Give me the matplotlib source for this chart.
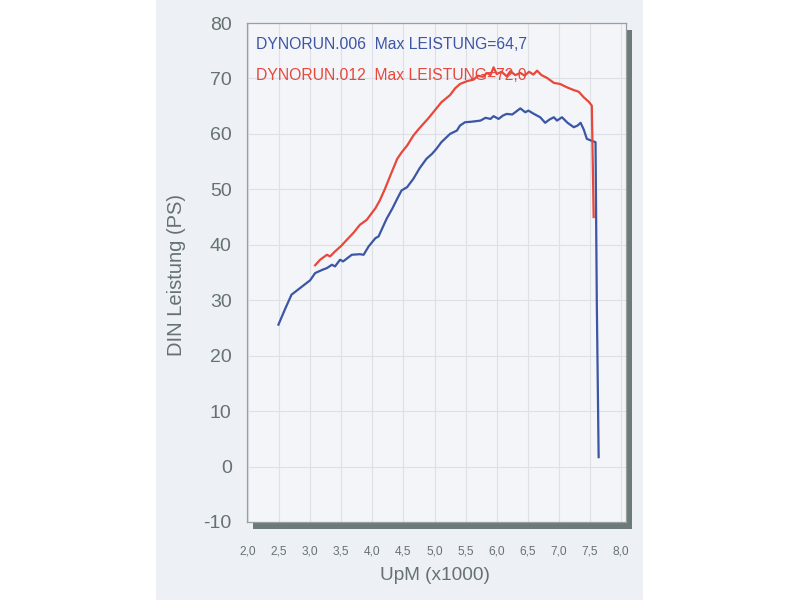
import matplotlib.pyplot as plt
from matplotlib.patches import Rectangle

plt.rcParams['font.family'] = ['Liberation Sans', 'DejaVu Sans']
plt.rcParams['axes.unicode_minus'] = False

# DYNORUN.006 (blue)
rpm_006 = [2.49, 2.60, 2.70, 2.85, 3.00, 3.08, 3.20, 3.27, 3.35, 3.40, 3.48, 3.53,
           3.60, 3.67, 3.80, 3.86, 3.94, 4.05, 4.10, 4.23, 4.32, 4.40, 4.47, 4.56,
           4.66, 4.76, 4.87, 4.96, 5.03, 5.11, 5.25, 5.36, 5.41, 5.49, 5.60, 5.74,
           5.82, 5.90, 5.95, 6.03, 6.10, 6.16, 6.25, 6.31, 6.38, 6.46, 6.51, 6.60,
           6.70, 6.78, 6.85, 6.92, 6.97, 7.05, 7.14, 7.24, 7.30, 7.35, 7.40, 7.45,
           7.52, 7.59, 7.61, 7.64]
ps_006 = [25.6, 28.5, 31.0, 32.3, 33.6, 34.9, 35.5, 35.8, 36.4, 36.1, 37.3, 37.0,
          37.6, 38.2, 38.3, 38.2, 39.7, 41.2, 41.5, 44.7, 46.5, 48.3, 49.8, 50.4,
          51.9, 53.8, 55.5, 56.4, 57.3, 58.5, 60.0, 60.6, 61.5, 62.1, 62.2, 62.4,
          62.9, 62.7, 63.2, 62.7, 63.3, 63.6, 63.5, 64.0, 64.6, 63.9, 64.2, 63.6,
          63.0, 62.0, 62.6, 63.0, 62.4, 63.0, 62.0, 61.2, 61.5, 62.0, 60.8, 59.1,
          58.8, 58.5, 30.0, 1.7]

# DYNORUN.012 (red)
rpm_012 = [3.08, 3.16, 3.27, 3.32, 3.40, 3.50, 3.59, 3.70, 3.80, 3.91, 4.05, 4.12,
           4.20, 4.29, 4.40, 4.48, 4.56, 4.66, 4.74, 4.82, 4.90, 4.98, 5.11, 5.25,
           5.33, 5.41, 5.52, 5.63, 5.70, 5.78, 5.84, 5.90, 5.95, 6.00, 6.08, 6.16,
           6.22, 6.30, 6.38, 6.45, 6.52, 6.59, 6.65, 6.72, 6.81, 6.92, 7.02, 7.13,
           7.24, 7.32, 7.40, 7.48, 7.53, 7.56]
ps_012 = [36.3, 37.3, 38.2, 37.9, 38.8, 39.8, 40.9, 42.2, 43.6, 44.5, 46.6, 48.0,
          50.0, 52.5, 55.5, 56.8, 57.9, 59.7, 60.8, 61.8, 62.8, 63.9, 65.7, 67.0,
          68.2, 69.0, 69.5, 69.8, 70.5, 70.3, 71.0, 70.6, 72.0, 70.8, 71.2, 70.4,
          71.3, 70.6, 71.0, 70.5, 71.2, 70.7, 71.4, 70.6, 70.1, 69.2, 69.0, 68.4,
          67.9, 67.6, 66.6, 65.8, 65.1, 45.0]

legend_labels = ['DYNORUN.006  Max LEISTUNG=64,7', 'DYNORUN.012  Max LEISTUNG=72,0']
x_ticks = [2.0, 2.5, 3.0, 3.5, 4.0, 4.5, 5.0, 5.5, 6.0, 6.5, 7.0, 7.5, 8.0]
y_ticks = [-10, 0, 10, 20, 30, 40, 50, 60, 70, 80]

blue = '#3c55a5'
red = '#e8473a'
gray_text = '#667272'

fig = plt.figure(figsize=(8, 6), dpi=100)
fig.patch.set_facecolor('white')

# scanned paper background
fig.add_artist(Rectangle((156 / 800, 0), (643 - 156) / 800, 1, transform=fig.transFigure,
                         facecolor='#edf0f4', edgecolor='none', zorder=-3))
# drop shadow of the plot box
fig.add_artist(Rectangle((253 / 800, 1 - 529 / 600), (632 - 253) / 800, (529 - 30) / 600,
                         transform=fig.transFigure, facecolor='#6d7a7a',
                         edgecolor='none', zorder=-2))

ax = fig.add_axes([247 / 800, 1 - 522 / 600, (626 - 247) / 800, (522 - 23) / 600])
ax.set_facecolor('#f3f5f8')

ax.plot(rpm_006, ps_006, color=blue, lw=1.6, zorder=3)
ax.plot(rpm_012, ps_012, color=red, lw=1.6, zorder=3)

ax.set_xlim(1.984, 8.08)
ax.set_ylim(-10, 80)
ax.set_xticks(x_ticks)
ax.set_xticklabels([f'{t:.1f}'.replace('.', ',') for t in x_ticks])
ax.set_yticks(y_ticks)
ax.grid(True, color='#dde1e6', lw=0.8)
ax.set_axisbelow(True)

ax.tick_params(axis='x', length=0, pad=17, labelsize=8.6, labelcolor=gray_text)
ax.tick_params(axis='y', length=0, pad=11, labelsize=14, labelcolor=gray_text)
for s in ax.spines.values():
    s.set_color('#9aa0a0')
    s.set_linewidth(0.9)

ax.set_xlabel('UpM (x1000)', fontsize=13.7, color=gray_text)
ax.xaxis.set_label_coords(0.496, -0.09)
ax.set_ylabel('DIN Leistung (PS)', fontsize=14.5, color=gray_text, va='center')
ax.yaxis.set_label_coords(-0.185, 0.495)

ax.text(0.024, 0.956, legend_labels[0], transform=ax.transAxes, color=blue,
        fontsize=11.3, va='center', ha='left', zorder=2)
ax.text(0.024, 0.894, legend_labels[1], transform=ax.transAxes, color=red,
        fontsize=11.3, va='center', ha='left', zorder=2)

plt.savefig('out.png', dpi=100)
